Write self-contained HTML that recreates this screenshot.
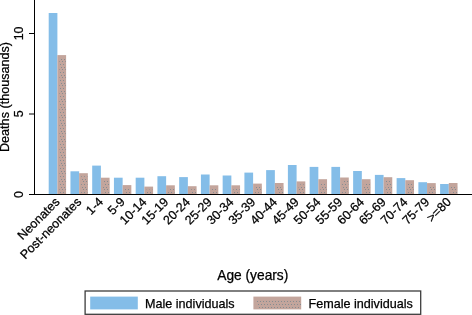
<!DOCTYPE html>
<html><head><meta charset="utf-8"><title>Deaths by age</title>
<style>
html,body{margin:0;padding:0;background:#fff;}
svg{display:block;font-family:"Liberation Sans",Arial,Helvetica,sans-serif;fill:#000;}
text{stroke:#000;stroke-width:0.25px;}
</style></head><body>
<svg width="472" height="315" viewBox="0 0 472 315">
<defs>
<pattern id="dots" x="0" y="0" width="3" height="8" patternUnits="userSpaceOnUse">
<rect width="3" height="8" fill="#c3a59c"/>
<rect x="0" y="0" width="1" height="1" fill="#878c90"/>
<rect x="1" y="3" width="1" height="1" fill="#878c90"/>
<rect x="2" y="5" width="1" height="1" fill="#878c90"/>
</pattern>
</defs>
<rect width="472" height="315" fill="#fff"/>
<rect x="48.70" y="13.0" width="8.7" height="181.3" fill="#84bde8"/>
<rect x="57.40" y="55.1" width="8.7" height="139.2" fill="#c3a59c"/>
<rect x="59.40" y="58.1" width="6.299999999999999" height="135.9" fill="url(#dots)"/>
<rect x="70.45" y="171.3" width="8.7" height="23.0" fill="#84bde8"/>
<rect x="79.15" y="173.2" width="8.7" height="21.1" fill="#c3a59c"/>
<rect x="81.15" y="176.2" width="6.299999999999999" height="17.8" fill="url(#dots)"/>
<rect x="92.19" y="165.6" width="8.7" height="28.7" fill="#84bde8"/>
<rect x="100.89" y="177.7" width="8.7" height="16.6" fill="#c3a59c"/>
<rect x="102.89" y="180.7" width="6.299999999999999" height="13.3" fill="url(#dots)"/>
<rect x="113.94" y="177.7" width="8.7" height="16.6" fill="#84bde8"/>
<rect x="122.64" y="185.1" width="8.7" height="9.2" fill="#c3a59c"/>
<rect x="124.64" y="188.1" width="6.299999999999999" height="5.9" fill="url(#dots)"/>
<rect x="135.68" y="177.7" width="8.7" height="16.6" fill="#84bde8"/>
<rect x="144.38" y="186.6" width="8.7" height="7.7" fill="#c3a59c"/>
<rect x="146.38" y="189.6" width="6.299999999999999" height="4.4" fill="url(#dots)"/>
<rect x="157.43" y="176.2" width="8.7" height="18.1" fill="#84bde8"/>
<rect x="166.12" y="185.3" width="8.7" height="9.0" fill="#c3a59c"/>
<rect x="168.12" y="188.3" width="6.299999999999999" height="5.7" fill="url(#dots)"/>
<rect x="179.17" y="177.1" width="8.7" height="17.2" fill="#84bde8"/>
<rect x="187.87" y="186.2" width="8.7" height="8.1" fill="#c3a59c"/>
<rect x="189.87" y="189.2" width="6.299999999999999" height="4.8" fill="url(#dots)"/>
<rect x="200.92" y="174.5" width="8.7" height="19.8" fill="#84bde8"/>
<rect x="209.62" y="185.3" width="8.7" height="9.0" fill="#c3a59c"/>
<rect x="211.62" y="188.3" width="6.299999999999999" height="5.7" fill="url(#dots)"/>
<rect x="222.66" y="175.5" width="8.7" height="18.8" fill="#84bde8"/>
<rect x="231.36" y="185.3" width="8.7" height="9.0" fill="#c3a59c"/>
<rect x="233.36" y="188.3" width="6.299999999999999" height="5.7" fill="url(#dots)"/>
<rect x="244.41" y="172.6" width="8.7" height="21.7" fill="#84bde8"/>
<rect x="253.11" y="183.6" width="8.7" height="10.7" fill="#c3a59c"/>
<rect x="255.11" y="186.6" width="6.299999999999999" height="7.4" fill="url(#dots)"/>
<rect x="266.15" y="170.1" width="8.7" height="24.2" fill="#84bde8"/>
<rect x="274.85" y="183.0" width="8.7" height="11.3" fill="#c3a59c"/>
<rect x="276.85" y="186.0" width="6.299999999999999" height="8.0" fill="url(#dots)"/>
<rect x="287.90" y="165.0" width="8.7" height="29.3" fill="#84bde8"/>
<rect x="296.60" y="181.4" width="8.7" height="12.9" fill="#c3a59c"/>
<rect x="298.60" y="184.4" width="6.299999999999999" height="9.6" fill="url(#dots)"/>
<rect x="309.64" y="166.9" width="8.7" height="27.4" fill="#84bde8"/>
<rect x="318.34" y="179.2" width="8.7" height="15.1" fill="#c3a59c"/>
<rect x="320.34" y="182.2" width="6.299999999999999" height="11.8" fill="url(#dots)"/>
<rect x="331.38" y="166.9" width="8.7" height="27.4" fill="#84bde8"/>
<rect x="340.08" y="177.5" width="8.7" height="16.8" fill="#c3a59c"/>
<rect x="342.08" y="180.5" width="6.299999999999999" height="13.5" fill="url(#dots)"/>
<rect x="353.13" y="171.0" width="8.7" height="23.3" fill="#84bde8"/>
<rect x="361.83" y="179.2" width="8.7" height="15.1" fill="#c3a59c"/>
<rect x="363.83" y="182.2" width="6.299999999999999" height="11.8" fill="url(#dots)"/>
<rect x="374.88" y="174.9" width="8.7" height="19.4" fill="#84bde8"/>
<rect x="383.57" y="177.2" width="8.7" height="17.1" fill="#c3a59c"/>
<rect x="385.57" y="180.2" width="6.299999999999999" height="13.8" fill="url(#dots)"/>
<rect x="396.62" y="178.1" width="8.7" height="16.2" fill="#84bde8"/>
<rect x="405.32" y="180.2" width="8.7" height="14.1" fill="#c3a59c"/>
<rect x="407.32" y="183.2" width="6.299999999999999" height="10.8" fill="url(#dots)"/>
<rect x="418.37" y="182.2" width="8.7" height="12.1" fill="#84bde8"/>
<rect x="427.06" y="183.1" width="8.7" height="11.2" fill="#c3a59c"/>
<rect x="429.06" y="186.1" width="6.299999999999999" height="7.9" fill="url(#dots)"/>
<rect x="440.11" y="184.0" width="8.7" height="10.3" fill="#84bde8"/>
<rect x="448.81" y="183.0" width="8.7" height="11.3" fill="#c3a59c"/>
<rect x="450.81" y="186.0" width="6.299999999999999" height="8.0" fill="url(#dots)"/>
<path d="M34.5 0V195M29 194.5H472M29 114H34.5M29 33.5H34.5" stroke="#000" stroke-width="1" fill="none"/>
<text transform="translate(23.2 194.5) rotate(-90)" text-anchor="middle" font-size="12.5">0</text>
<text transform="translate(23.2 113.8) rotate(-90)" text-anchor="middle" font-size="12.5">5</text>
<text transform="translate(23.2 33.4) rotate(-90)" text-anchor="middle" font-size="12.5">10</text>
<text transform="translate(9.4 97) rotate(-90)" text-anchor="middle" font-size="12.62">Deaths (thousands)</text>
<text transform="translate(60.40 202.7) rotate(-45)" text-anchor="end" font-size="12.5">Neonates</text>
<text transform="translate(82.15 202.7) rotate(-45)" text-anchor="end" font-size="12.5">Post-neonates</text>
<text transform="translate(103.89 202.7) rotate(-45)" text-anchor="end" font-size="12.5">1-4</text>
<text transform="translate(125.64 202.7) rotate(-45)" text-anchor="end" font-size="12.5">5-9</text>
<text transform="translate(147.38 202.7) rotate(-45)" text-anchor="end" font-size="12.5">10-14</text>
<text transform="translate(169.12 202.7) rotate(-45)" text-anchor="end" font-size="12.5">15-19</text>
<text transform="translate(190.87 202.7) rotate(-45)" text-anchor="end" font-size="12.5">20-24</text>
<text transform="translate(212.62 202.7) rotate(-45)" text-anchor="end" font-size="12.5">25-29</text>
<text transform="translate(234.36 202.7) rotate(-45)" text-anchor="end" font-size="12.5">30-34</text>
<text transform="translate(256.11 202.7) rotate(-45)" text-anchor="end" font-size="12.5">35-39</text>
<text transform="translate(277.85 202.7) rotate(-45)" text-anchor="end" font-size="12.5">40-44</text>
<text transform="translate(299.60 202.7) rotate(-45)" text-anchor="end" font-size="12.5">45-49</text>
<text transform="translate(321.34 202.7) rotate(-45)" text-anchor="end" font-size="12.5">50-54</text>
<text transform="translate(343.08 202.7) rotate(-45)" text-anchor="end" font-size="12.5">55-59</text>
<text transform="translate(364.83 202.7) rotate(-45)" text-anchor="end" font-size="12.5">60-64</text>
<text transform="translate(386.57 202.7) rotate(-45)" text-anchor="end" font-size="12.5">65-69</text>
<text transform="translate(408.32 202.7) rotate(-45)" text-anchor="end" font-size="12.5">70-74</text>
<text transform="translate(430.06 202.7) rotate(-45)" text-anchor="end" font-size="12.5">75-79</text>
<text transform="translate(451.81 202.7) rotate(-45)" text-anchor="end" font-size="12.5">&gt;=80</text>
<text x="252.8" y="280.4" text-anchor="middle" font-size="13.75">Age (years)</text>
<rect x="85.1" y="291" width="335.6" height="23.3" fill="#fff" stroke="#3c3c3c" stroke-width="1.3"/>
<rect x="90.2" y="296.6" width="47.6" height="12.8" fill="#84bde8"/>
<rect x="253.4" y="296.6" width="47.8" height="12.8" fill="#c3a59c"/>
<rect x="257" y="300" width="44" height="9" fill="url(#dots)"/>
<text x="145" y="307.5" font-size="12.6">Male individuals</text>
<text x="308.5" y="307.5" font-size="12.6">Female individuals</text>
</svg></body></html>
